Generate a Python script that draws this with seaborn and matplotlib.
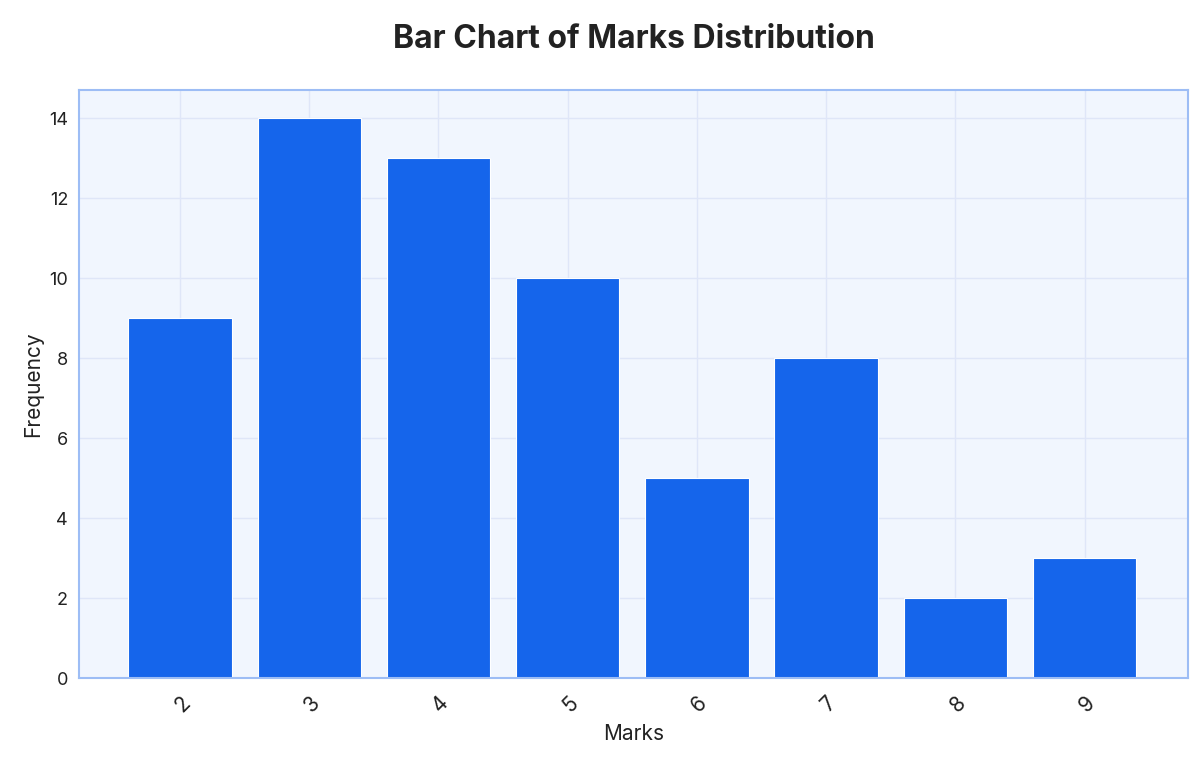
import matplotlib
matplotlib.use("Agg")
import matplotlib.pyplot as plt
import seaborn as sns
import pandas as pd

# data
marks = [2, 3, 4, 5, 6, 7, 8, 9]
frequency = [9, 14, 13, 10, 5, 8, 2, 3]

df = pd.DataFrame({"Marks": marks, "Frequency": frequency})

sns.set_theme(style="whitegrid")
plt.rcParams["font.family"] = ["Inter", "DejaVu Sans"]

fig, ax = plt.subplots(figsize=(12, 7.64), dpi=100)
fig.subplots_adjust(left=0.066, right=0.99, top=0.882, bottom=0.112)

sns.barplot(data=df, x="Marks", y="Frequency", color="#1565eb", saturation=1,
            width=0.8, edgecolor="white", linewidth=0.8, ax=ax)

ax.set_facecolor("#f1f6fe")
for s in ax.spines.values():
    s.set_color("#9dbdf5")
    s.set_linewidth(1.5)
ax.grid(True, color="#dfe6f8", linewidth=1)
ax.set_axisbelow(True)
ax.set_xlim(-0.78, len(marks) - 1 + 0.8)
ax.set_ylim(0, 14.7)

plt.xticks(rotation=45, ha="right", rotation_mode="anchor")
ax.tick_params(axis="y", labelsize=13, colors="#222222", length=0, pad=8)
ax.tick_params(axis="x", labelsize=15, colors="#222222", length=0, pad=10)
ax.set_xlabel("Marks", fontsize=15, color="#222222", labelpad=6)
ax.set_ylabel("Frequency", fontsize=15, color="#222222")
ax.set_title("Bar Chart of Marks Distribution", fontsize=23, fontweight="bold",
             color="#222222", pad=30)

plt.savefig("out.png", dpi=100)
